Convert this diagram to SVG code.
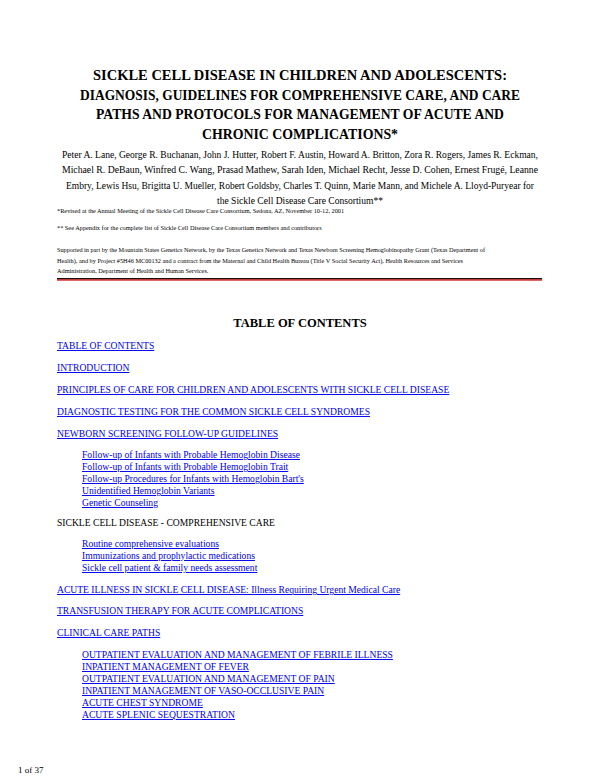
<svg xmlns="http://www.w3.org/2000/svg" width="600" height="776" viewBox="0 0 600 776">
<style>
text{font-family:"Liberation Serif","Times New Roman",serif;fill:#000}
.t{font-family:"Liberation Serif",serif;font-size:15px;font-weight:bold;text-anchor:middle}
.a{font-size:9.8px;text-anchor:middle}
.f{font-size:6.3px}
.l{font-size:9.6px;fill:#00e;text-decoration:underline}
.k{font-size:9.6px}
</style>
<rect width="600" height="776" fill="#fff"/>
<g id="title">
<text class="t" x="300" y="80" textLength="414" lengthAdjust="spacingAndGlyphs">SICKLE CELL DISEASE IN CHILDREN AND ADOLESCENTS:</text>
<text class="t" x="300" y="100" textLength="440" lengthAdjust="spacingAndGlyphs">DIAGNOSIS, GUIDELINES FOR COMPREHENSIVE CARE, AND CARE</text>
<text class="t" x="300" y="119" textLength="408" lengthAdjust="spacingAndGlyphs">PATHS AND PROTOCOLS FOR MANAGEMENT OF ACUTE AND</text>
<text class="t" x="300" y="139" textLength="196" lengthAdjust="spacingAndGlyphs">CHRONIC COMPLICATIONS*</text>
</g>
<g id="authors">
<text class="a" x="300" y="158" textLength="476" lengthAdjust="spacingAndGlyphs">Peter A. Lane, George R. Buchanan, John J. Hutter, Robert F. Austin, Howard A. Britton, Zora R. Rogers, James R. Eckman,</text>
<text class="a" x="300" y="173" textLength="476" lengthAdjust="spacingAndGlyphs">Michael R. DeBaun, Winfred C. Wang, Prasad Mathew, Sarah Iden, Michael Recht, Jesse D. Cohen, Ernest Frugé, Leanne</text>
<text class="a" x="300" y="189" textLength="468" lengthAdjust="spacingAndGlyphs">Embry, Lewis Hsu, Brigitta U. Mueller, Robert Goldsby, Charles T. Quinn, Marie Mann, and Michele A. Lloyd-Puryear for</text>
<text class="a" x="300" y="204" textLength="166" lengthAdjust="spacingAndGlyphs">the Sickle Cell Disease Care Consortium**</text>
</g>
<g id="notes">
<text class="f" x="57" y="213">*Revised at the Annual Meeting of the Sickle Cell Disease Care Consortium, Sedona, AZ, November 10-12, 2001</text>
<text class="f" x="57" y="230">** See Appendix for the complete list of Sickle Cell Disease Care Consortium members and contributors</text>
<text class="f" x="57" y="252" textLength="428" lengthAdjust="spacingAndGlyphs">Supported in part by the Mountain States Genetics Network, by the Texas Genetics Network and Texas Newborn Screening Hemoglobinopathy Grant (Texas Department of</text>
<text class="f" x="57" y="263" textLength="406" lengthAdjust="spacingAndGlyphs">Health), and by Project #5H46 MC00132 and a contract from the Maternal and Child Health Bureau (Title V Social Security Act), Health Resources and Services</text>
<text class="f" x="57" y="273">Administration, Department of Health and Human Services.</text>
<rect x="57" y="278" width="485" height="1.3" fill="#111"/>
<rect x="57" y="279.3" width="485" height="1.3" fill="#c00"/>
</g>
<g id="toc">
<text x="300" y="327" style="font-size:12.5px;font-weight:bold;text-anchor:middle">TABLE OF CONTENTS</text>
<text class="l" x="57" y="349">TABLE OF CONTENTS</text>
<text class="l" x="57" y="371">INTRODUCTION</text>
<text class="l" x="57" y="393">PRINCIPLES OF CARE FOR CHILDREN AND ADOLESCENTS WITH SICKLE CELL DISEASE</text>
<text class="l" x="57" y="415">DIAGNOSTIC TESTING FOR THE COMMON SICKLE CELL SYNDROMES</text>
<text class="l" x="57" y="437">NEWBORN SCREENING FOLLOW-UP GUIDELINES</text>
<text class="l" x="82" y="458">Follow-up of Infants with Probable Hemoglobin Disease</text>
<text class="l" x="82" y="470">Follow-up of Infants with Probable Hemoglobin Trait</text>
<text class="l" x="82" y="482">Follow-up Procedures for Infants with Hemoglobin Bart's</text>
<text class="l" x="82" y="494">Unidentified Hemoglobin Variants</text>
<text class="l" x="82" y="506">Genetic Counseling</text>
<text class="k" x="57" y="526">SICKLE CELL DISEASE - COMPREHENSIVE CARE</text>
<text class="l" x="82" y="547">Routine comprehensive evaluations</text>
<text class="l" x="82" y="559">Immunizations and prophylactic medications</text>
<text class="l" x="82" y="571">Sickle cell patient &amp; family needs assessment</text>
<text class="l" x="57" y="593">ACUTE ILLNESS IN SICKLE CELL DISEASE: Illness Requiring Urgent Medical Care</text>
<text class="l" x="57" y="614">TRANSFUSION THERAPY FOR ACUTE COMPLICATIONS</text>
<text class="l" x="57" y="636">CLINICAL CARE PATHS</text>
<text class="l" x="82" y="658">OUTPATIENT EVALUATION AND MANAGEMENT OF FEBRILE ILLNESS</text>
<text class="l" x="82" y="670">INPATIENT MANAGEMENT OF FEVER</text>
<text class="l" x="82" y="682">OUTPATIENT EVALUATION AND MANAGEMENT OF PAIN</text>
<text class="l" x="82" y="694">INPATIENT MANAGEMENT OF VASO-OCCLUSIVE PAIN</text>
<text class="l" x="82" y="706">ACUTE CHEST SYNDROME</text>
<text class="l" x="82" y="718">ACUTE SPLENIC SEQUESTRATION</text>
</g>
<text x="18" y="773" style="font-size:9px">1 of 37</text>
</svg>
